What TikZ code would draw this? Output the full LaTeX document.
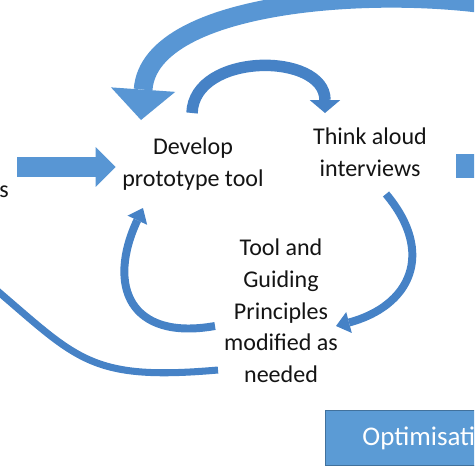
\documentclass[tikz,border=0pt]{standalone}
\usepackage{fontspec}
\setmainfont{Carlito}
\usetikzlibrary{arrows.meta}

\definecolor{arcblue}{RGB}{70,130,198}
\definecolor{lightblue}{RGB}{88,150,212}
\definecolor{boxblue}{RGB}{91,155,213}
\definecolor{boxedge}{RGB}{65,113,156}

\begin{document}
\begin{tikzpicture}[
    x=0.03cm, y=0.03cm,
    label/.style={align=center, inner sep=0pt, text=black!92, font=\fontsize{20.5}{27}\selectfont},
    optbox/.style={rectangle, fill=boxblue, draw=boxedge, line width=0.9pt, text=white, font=\fontsize{23}{27}\selectfont},
    blockarr/.style={draw=arcblue, line cap=butt},
    straightarr/.style={blockarr, draw=lightblue, line width=17pt, -{Triangle[width=34pt, length=17pt, line width=0pt]}},
    bigarr/.style={blockarr, draw=lightblue, line width=16pt, -{Triangle[width=55pt, length=26pt, line width=0pt]}},
    smallarr/.style={blockarr, line width=9.8pt, -{Triangle[width=26pt, length=11pt, line width=0pt]}},
    looparr/.style={blockarr, line width=6.8pt, -{Triangle[width=18.5pt, length=11.5pt, line width=0pt]}},
    backarr/.style={blockarr, line width=6pt, -{Triangle[width=18pt, length=11pt, line width=0pt]}}
  ]
    \useasboundingbox (0,0) rectangle (474,-474);
    \clip (0,0) rectangle (474,-474);

    % --- Texts ---
    \node[label] (dev) at (193,-164) {Develop\\prototype tool};
    \node[label] (think) at (370,-152) {Think aloud\\interviews};
    \node[label] (tool) at (281,-311) {Tool and\\Guiding\\Principles\\modified as\\needed};
    \node[label, anchor=base east] (cut) at (9,-197) {s};
    \node[optbox, anchor=north west, minimum height=1.65cm, inner xsep=31.5pt, text width=4cm, align=left] (opt) at (325,-410) {Optimisati};

    % --- Free ends ---
    \coordinate (inTail) at (17,-167);
    \coordinate (outTail) at (456,-166);
    \coordinate (outTip) at (545,-166);
    \coordinate (bigTail) at (520,-10);
    \coordinate (bigTip) at (141,-120);
    \coordinate (devTop) at (192,-113);
    \coordinate (thinkTop) at (325,-113);
    \coordinate (thinkBelow) at (386,-194);
    \coordinate (toolRight) at (336,-326);
    \coordinate (toolLeft) at (215,-326);
    \coordinate (devBelow) at (143,-208);
    \coordinate (toolLow) at (218,-370);
    \coordinate (backTip) at (-25,-272);

    % --- Arrows ---
    \draw[straightarr, shorten >=5.5pt] (inTail) -- (inTail -| dev.west);
    \draw[straightarr, line width=21pt] (outTail) -- (outTip);
    \draw[bigarr] (bigTail) to[out=168, in=86, looseness=0.8] (bigTip);
    \draw[smallarr] (devTop) to[out=88, in=90, looseness=1.18] (thinkTop);
    \draw[looparr] (thinkBelow) to[out=-50, in=15, looseness=1.4] (toolRight);
    \draw[looparr] (toolLeft) to[out=190, in=-115, looseness=1.6] (devBelow);
    \draw[backarr] (toolLow) to[out=185, in=-40, looseness=1.3] (backTip);

  \end{tikzpicture}
\end{document}
